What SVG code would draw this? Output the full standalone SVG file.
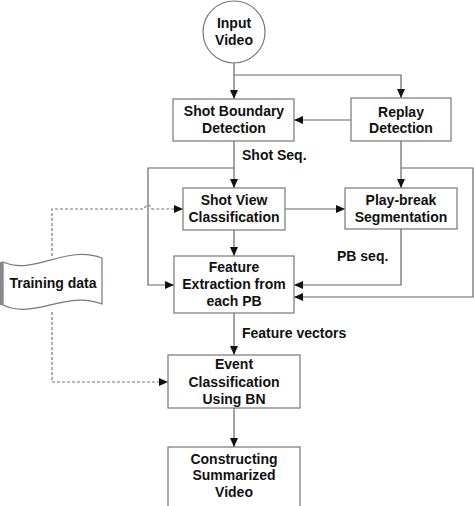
<svg xmlns="http://www.w3.org/2000/svg" width="474" height="506" viewBox="0 0 474 506">
<style>
.box{fill:#fff;stroke:#777;stroke-width:1.2}
.t{font-family:"Liberation Sans",Arial,sans-serif;font-weight:bold;font-size:14px;fill:#111;text-anchor:middle}
.l{font-family:"Liberation Sans",Arial,sans-serif;font-weight:bold;font-size:14px;fill:#111}
.c{fill:none;stroke:#666;stroke-width:1.2}
.d{fill:none;stroke:#777;stroke-width:1.2;stroke-dasharray:3,2}
</style>
<defs>
<marker id="a" markerWidth="9" markerHeight="8" refX="9" refY="4" orient="auto" markerUnits="userSpaceOnUse">
<path d="M0,0 L9,4 L0,8 Z" fill="#111"/>
</marker>
</defs>
<rect width="474" height="506" fill="#fff"/>
<g id="connectors">
<path class="c" d="M234,62 V99" marker-end="url(#a)"/>
<path class="c" d="M234,75 H401 V98" marker-end="url(#a)"/>
<path class="c" d="M351,120 H294" marker-end="url(#a)"/>
<path class="c" d="M234,141 V188" marker-end="url(#a)"/>
<path class="c" d="M234,168 H148 V285 H174" marker-end="url(#a)"/>
<path class="c" d="M401,141 V188" marker-end="url(#a)"/>
<path class="c" d="M401,168 H473 V297 H294" marker-end="url(#a)"/>
<path class="c" d="M285,209 H345" marker-end="url(#a)"/>
<path class="c" d="M234,230 V256" marker-end="url(#a)"/>
<path class="c" d="M401,229 V285 H294" marker-end="url(#a)"/>
<path class="c" d="M234,313 V355" marker-end="url(#a)"/>
<path class="c" d="M234,408 V447" marker-end="url(#a)"/>
<path class="d" d="M52,256 V209 H144 Q148,201 152,209 H183" marker-end="url(#a)"/>
<path class="d" d="M52,312 V382 H168" marker-end="url(#a)"/>
</g>
<g id="input">
<circle class="box" cx="234" cy="32" r="31"/>
<text class="t" x="234" y="28">Input</text>
<text class="t" x="234" y="45">Video</text>
</g>
<g id="shotboundary">
<rect class="box" x="173" y="99" width="121" height="42"/>
<text class="t" x="234" y="116">Shot Boundary</text>
<text class="t" x="234" y="133">Detection</text>
</g>
<g id="replay">
<rect class="box" x="351" y="98" width="100" height="43"/>
<text class="t" x="401" y="117">Replay</text>
<text class="t" x="401" y="133">Detection</text>
</g>
<g id="shotview">
<rect class="box" x="183" y="188" width="102" height="42"/>
<text class="t" x="234" y="205">Shot View</text>
<text class="t" x="234" y="222">Classification</text>
</g>
<g id="playbreak">
<rect class="box" x="345" y="188" width="112" height="41"/>
<text class="t" x="401" y="205">Play-break</text>
<text class="t" x="401" y="222">Segmentation</text>
</g>
<g id="feature">
<rect class="box" x="174" y="256" width="120" height="57"/>
<text class="t" x="234" y="272">Feature</text>
<text class="t" x="234" y="289">Extraction from</text>
<text class="t" x="234" y="306">each PB</text>
</g>
<g id="event">
<rect class="box" x="168" y="355" width="132" height="53"/>
<text class="t" x="234" y="369">Event</text>
<text class="t" x="234" y="387">Classification</text>
<text class="t" x="234" y="404">Using BN</text>
</g>
<g id="constructing">
<rect class="box" x="168" y="447" width="132" height="60"/>
<text class="t" x="234" y="464">Constructing</text>
<text class="t" x="234" y="480">Summarized</text>
<text class="t" x="234" y="497">Video</text>
</g>
<g id="training">
<path class="box" d="M3,262 C35,276 65,244 102,258 V304 C65,290 35,320 3,305 Z"/>
<rect x="0" y="262" width="3" height="43" fill="#888"/>
<text class="t" x="53" y="288">Training data</text>
</g>
<g id="labels">
<text class="l" x="242" y="160">Shot Seq.</text>
<text class="l" x="337" y="261">PB seq.</text>
<text class="l" x="242" y="338">Feature vectors</text>
</g>
</svg>
